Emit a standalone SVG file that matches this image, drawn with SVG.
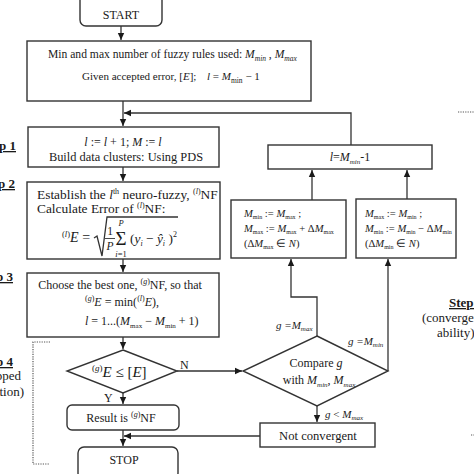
<svg xmlns="http://www.w3.org/2000/svg" width="474" height="474" viewBox="0 0 474 474">
<defs>
<style>
text{font-family:"Liberation Serif","Times New Roman",serif;fill:#1a1a1a}
.box{fill:#fff;stroke:#333;stroke-width:1.4}
.ln{fill:none;stroke:#333;stroke-width:1.3}
.dot{fill:none;stroke:#555;stroke-width:1.2;stroke-dasharray:1.2 1.2}
.i{font-style:italic}
.step{font-weight:bold;text-decoration:underline}
</style>
<marker id="ah" markerWidth="8" markerHeight="8" refX="7" refY="4" orient="auto" markerUnits="userSpaceOnUse"><path d="M0,0.8 L7,4 L0,7.2 z" fill="#1a1a1a"/></marker>
</defs>
<rect width="474" height="474" fill="#fff"/>

<g id="connectors">
<path class="ln" d="M121,26 V40" marker-end="url(#ah)"/>
<path class="ln" d="M123,101 V126" marker-end="url(#ah)"/>
<path class="ln" d="M351,145 V113 H124" marker-end="url(#ah)"/>
<path class="ln" d="M123,167 V181" marker-end="url(#ah)"/>
<path class="ln" d="M123,259 V272" marker-end="url(#ah)"/>
<path class="ln" d="M123,337 V349" marker-end="url(#ah)"/>
<path class="ln" d="M123,393 V404" marker-end="url(#ah)"/>
<path class="ln" d="M177,371 H242" marker-end="url(#ah)"/>
<path class="ln" d="M123,430 V446" marker-end="url(#ah)"/>
<path class="ln" d="M260,436 H124" marker-end="url(#ah)"/>
<path class="ln" d="M317,336 V297 H291 V259" marker-end="url(#ah)"/>
<path class="ln" d="M388,371 V259" marker-end="url(#ah)"/>
<path class="ln" d="M317,406 V422" marker-end="url(#ah)"/>
<path class="ln" d="M312,200 V170" marker-end="url(#ah)"/>
<path class="ln" d="M407,199 V170" marker-end="url(#ah)"/>
<path class="dot" d="M50,342 H33 V464 H50"/>
<path class="dot" d="M458,112 H474"/>
<path class="dot" d="M471,435 H474"/>
</g>

<g id="start">
<rect class="box" x="80" y="-6" width="82" height="32" rx="6"/>
<text x="121" y="19" font-size="12" text-anchor="middle">START</text>
</g>

<g id="init">
<rect class="box" x="27" y="41" width="284" height="60"/>
<text x="48" y="58" font-size="11.6">Min and max number of fuzzy rules used: <tspan class="i">M</tspan><tspan class="i" font-size="7.5" dy="2.5">min</tspan><tspan dy="-2.5"> , </tspan><tspan class="i">M</tspan><tspan class="i" font-size="7.5" dy="2.5">max</tspan></text>
<text x="82" y="80" font-size="11">Given accepted error, [<tspan class="i">E</tspan>];<tspan x="207" class="i">l</tspan> = <tspan class="i">M</tspan><tspan font-size="7.5" dy="2.5">min</tspan><tspan dy="-2.5"> − 1</tspan></text>
</g>

<g id="step1">
<rect class="box" x="28" y="127" width="191" height="40"/>
<text x="123" y="146" font-size="12" text-anchor="middle"><tspan class="i">l</tspan> := <tspan class="i">l</tspan> + 1; <tspan class="i">M</tspan> := <tspan class="i">l</tspan></text>
<text x="126" y="161" font-size="12.4" text-anchor="middle">Build data clusters: Using PDS</text>
</g>

<g id="step2">
<rect class="box" x="27" y="182" width="193" height="77"/>
<text x="37" y="199" font-size="13.4">Establish the <tspan class="i">l</tspan><tspan font-size="8" dy="-5">th</tspan><tspan dy="5"> neuro-fuzzy, </tspan><tspan font-size="8" dy="-5">(<tspan class="i">l</tspan>)</tspan><tspan dy="5">NF</tspan></text>
<text x="37" y="213" font-size="13.4">Calculate Error of <tspan font-size="8" dy="-5">(<tspan class="i">l</tspan>)</tspan><tspan dy="5">NF:</tspan></text>
<text x="62" y="242" font-size="14"><tspan font-size="8.5" dy="-5">(<tspan class="i">l</tspan>)</tspan><tspan class="i" dy="5">E</tspan> =</text>
<path class="ln" stroke-width="1" d="M94,238 L97,236 L102,256 L107,217 H178"/>
<text x="110" y="235" font-size="11.5" text-anchor="middle">1</text>
<line x1="105" y1="238.5" x2="115" y2="238.5" stroke="#333" stroke-width="0.9"/>
<text x="110" y="250" font-size="11.5" text-anchor="middle" class="i">P</text>
<text x="121" y="245" font-size="19" text-anchor="middle">Σ</text>
<text x="121" y="226" font-size="8.5" text-anchor="middle" class="i">P</text>
<text x="121" y="257" font-size="8.5" text-anchor="middle"><tspan class="i">i</tspan>=1</text>
<text x="130" y="243" font-size="13.4">(<tspan class="i">y</tspan><tspan class="i" font-size="8" dy="2.5">i</tspan><tspan dy="-2.5"> − </tspan><tspan class="i">ŷ</tspan><tspan class="i" font-size="8" dy="2.5">i</tspan><tspan dy="-2.5"> )</tspan><tspan font-size="8" dy="-6">2</tspan></text>
</g>

<g id="step3">
<rect class="box" x="27" y="273" width="192" height="64"/>
<text x="120" y="289" font-size="12" text-anchor="middle">Choose the best one, <tspan font-size="8" dy="-5">(<tspan class="i">g</tspan>)</tspan><tspan dy="5">NF, so that</tspan></text>
<text x="85" y="306" font-size="12"><tspan font-size="8" dy="-5">(<tspan class="i">g</tspan>)</tspan><tspan class="i" dy="5">E</tspan> = min(<tspan font-size="8" dy="-5">(<tspan class="i">l</tspan>)</tspan><tspan class="i" dy="5">E</tspan>),</text>
<text x="85" y="325" font-size="12"><tspan class="i">l</tspan> = 1...(<tspan class="i">M</tspan><tspan font-size="7" dy="2.5">max</tspan><tspan dy="-2.5"> − </tspan><tspan class="i">M</tspan><tspan font-size="7" dy="2.5">min</tspan><tspan dy="-2.5"> + 1)</tspan></text>
</g>

<g id="check">
<polygon class="box" points="123,350 177,371 123,393 67,371"/>
<text x="92" y="377" font-size="15"><tspan font-size="9" dy="-6">(<tspan class="i">g</tspan>)</tspan><tspan class="i" dy="6">E</tspan> ≤ [<tspan class="i">E</tspan>]</text>
<text x="180" y="369" font-size="12">N</text>
<text x="104" y="402" font-size="12">Y</text>
</g>

<g id="result">
<rect class="box" x="67" y="405" width="112" height="25" rx="5"/>
<text x="121" y="422" font-size="12" text-anchor="middle">Result is <tspan font-size="8" dy="-5">(<tspan class="i">g</tspan>)</tspan><tspan dy="5">NF</tspan></text>
</g>

<g id="stop">
<rect class="box" x="78" y="447" width="100" height="32" rx="6"/>
<text x="124" y="464" font-size="12" text-anchor="middle">STOP</text>
</g>

<g id="reset">
<rect class="box" x="268" y="145" width="164" height="24"/>
<text x="350" y="161" font-size="12" text-anchor="middle"><tspan class="i">l</tspan>=<tspan class="i">M</tspan><tspan class="i" font-size="7" dy="2.5">min</tspan><tspan dy="-2.5">-1</tspan></text>
</g>

<g id="grow">
<rect class="box" x="231" y="200" width="115" height="58"/>
<text x="244" y="217" font-size="10.6"><tspan class="i">M</tspan><tspan font-size="6" dy="2">min</tspan><tspan dy="-2"> := </tspan><tspan class="i">M</tspan><tspan font-size="6" dy="2">max</tspan><tspan dy="-2"> ;</tspan></text>
<text x="244" y="232" font-size="10.6"><tspan class="i">M</tspan><tspan font-size="6" dy="2">max</tspan><tspan dy="-2"> := </tspan><tspan class="i">M</tspan><tspan font-size="6" dy="2">max</tspan><tspan dy="-2"> + Δ</tspan><tspan class="i">M</tspan><tspan font-size="6" dy="2">max</tspan></text>
<text x="244" y="247" font-size="10.6">(Δ<tspan class="i">M</tspan><tspan font-size="6" dy="2">max</tspan><tspan dy="-2"> ∈ </tspan><tspan class="i">N</tspan>)</text>
</g>

<g id="shrink">
<rect class="box" x="356" y="199" width="100" height="59"/>
<text x="365" y="217" font-size="10.6"><tspan class="i">M</tspan><tspan font-size="6" dy="2">max</tspan><tspan dy="-2"> := </tspan><tspan class="i">M</tspan><tspan font-size="6" dy="2">min</tspan><tspan dy="-2"> ;</tspan></text>
<text x="365" y="232" font-size="10.6"><tspan class="i">M</tspan><tspan font-size="6" dy="2">min</tspan><tspan dy="-2"> := </tspan><tspan class="i">M</tspan><tspan font-size="6" dy="2">min</tspan><tspan dy="-2"> − Δ</tspan><tspan class="i">M</tspan><tspan font-size="6" dy="2">min</tspan></text>
<text x="365" y="247" font-size="10.6">(Δ<tspan class="i">M</tspan><tspan font-size="6" dy="2">min</tspan><tspan dy="-2"> ∈ </tspan><tspan class="i">N</tspan>)</text>
</g>

<g id="compare">
<polygon class="box" points="317,336 388,371 317,406 243,371"/>
<text x="316" y="367" font-size="12" text-anchor="middle">Compare  <tspan class="i">g</tspan></text>
<text x="319" y="384" font-size="12" text-anchor="middle">with <tspan class="i">M</tspan><tspan class="i" font-size="7" dy="2.5">min</tspan><tspan dy="-2.5">, </tspan><tspan class="i">M</tspan><tspan class="i" font-size="7" dy="2.5">max</tspan></text>
<text x="276" y="329" font-size="11" class="i">g =M<tspan font-size="7" dy="2">max</tspan></text>
<text x="348" y="345" font-size="11" class="i">g =M<tspan font-size="7" dy="2">min</tspan></text>
<text x="325" y="418" font-size="11"><tspan class="i">g</tspan> &lt; <tspan class="i">M</tspan><tspan class="i" font-size="7" dy="2">max</tspan></text>
</g>

<g id="notconv">
<rect class="box" x="260" y="423" width="115" height="24"/>
<text x="318" y="440" font-size="12.6" text-anchor="middle">Not convergent</text>
</g>

<g id="labels">
<text x="16" y="150" font-size="13" text-anchor="end" class="step">Step 1</text>
<text x="15" y="188" font-size="13" text-anchor="end" class="step">Step 2</text>
<text x="13" y="281" font-size="13" text-anchor="end" class="step">Step 3</text>
<text x="13" y="366" font-size="13" text-anchor="end" class="step">Step 4</text>
<text x="21" y="380" font-size="13" text-anchor="end">(Stopped</text>
<text x="24" y="396" font-size="13" text-anchor="end">condition)</text>
<text x="449" y="307" font-size="13" class="step">Step 5</text>
<text x="422" y="322" font-size="13">(convergence</text>
<text x="437" y="337" font-size="13">ability)</text>
</g>
</svg>
